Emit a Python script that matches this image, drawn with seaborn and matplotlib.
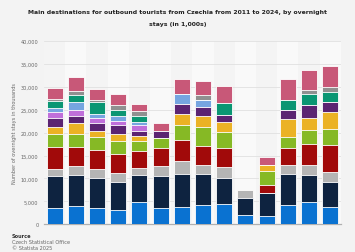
import numpy as np
import pandas as pd
import matplotlib
matplotlib.use('Agg')
import matplotlib.pyplot as plt
import seaborn as sns

# Years shown (no tick labels are visible in the reference)
years = [str(y) for y in range(2011, 2025)]

# Overnight stays in 1,000s, one list per destination (bottom to top of stack)
slovakia = [3640, 4080, 3500, 3130, 4950, 3570, 3710, 4300, 4370, 2110, 1820, 4220, 4880, 3710]
croatia = [6920, 6770, 6550, 6190, 5830, 6920, 7360, 6770, 5680, 3570, 5030, 6700, 5970, 5610]
austria = [1600, 1900, 2110, 1970, 1460, 2260, 2700, 1970, 2400, 1750, 0, 2120, 2190, 2190]
italy = [4660, 4220, 4080, 4080, 3860, 4000, 4730, 4150, 4150, 0, 1820, 3560, 4590, 5900]
greece = [2780, 2830, 2910, 2910, 2040, 2190, 3130, 4150, 3570, 0, 2910, 2550, 3050, 3490]
spain = [1700, 2270, 1240, 1530, 1090, 0, 2400, 2260, 2120, 0, 1460, 3720, 2550, 3570]
germany = [1900, 1670, 1750, 1820, 1090, 1450, 2260, 2040, 1530, 0, 0, 2180, 2700, 2190]
france = [1300, 1310, 1020, 870, 1240, 0, 0, 0, 0, 0, 0, 0, 0, 0]
hungary = [800, 1610, 940, 1100, 730, 0, 2040, 1530, 0, 0, 0, 0, 0, 0]
bulgaria = [1500, 1530, 2480, 1300, 1310, 0, 0, 0, 2690, 0, 0, 1970, 2400, 2110]
poland = [600, 870, 510, 1170, 1090, 0, 0, 1020, 0, 0, 0, 0, 870, 1090]
other = [2300, 2990, 2410, 2260, 1600, 1610, 3270, 3130, 3570, 0, 1600, 4740, 4520, 4590]

series_names = ['Slovakia', 'Croatia', 'Austria', 'Italy', 'Greece', 'Spain',
                'Germany', 'France', 'Hungary', 'Bulgaria', 'Poland', 'Other']
series_values = [slovakia, croatia, austria, italy, greece, spain,
                 germany, france, hungary, bulgaria, poland, other]
colors = ['#0a72d1', '#0e2340', '#b5b5b5', '#a10a0a', '#86b925', '#ebb225',
          '#5b2472', '#c06fda', '#76a5e0', '#0a9673', '#909090', '#c85878']

df = pd.DataFrame(dict(zip(series_names, series_values)), index=years)
cum = df.cumsum(axis=1)

fig = plt.figure(figsize=(3.55, 2.53), dpi=100, facecolor='#f3f3f3')
ax = fig.add_axes([0.124, 0.1095, 0.836, 0.7245])
ax.set_facecolor('#f4f4f4')

# alternating column shading
for i in range(len(years)):
    if i % 2 == 1:
        ax.axvspan(i - 0.5, i + 0.5, color='#f9f9f9', zorder=0, lw=0)

# draw cumulative totals from the top series down so they stack
for name, col in reversed(list(zip(series_names, colors))):
    sns.barplot(x=years, y=cum[name].values, color=col, width=0.76,
                edgecolor='white', linewidth=0.6, ax=ax, zorder=3,
                saturation=1)

ax.set_ylim(0, 40000)
ax.set_xlim(-0.5, len(years) - 0.5)
ticks = np.arange(0, 40001, 5000)
ax.set_yticks(ticks)
ax.set_yticklabels([f'{t:,}' for t in ticks], fontsize=3.6, color='#666666')
ax.set_xticks([])
ax.tick_params(axis='y', length=0, pad=4)
ax.grid(axis='y', color='#dcdcdc', lw=0.5, zorder=1)
ax.set_axisbelow(True)
for s in ['top', 'right', 'left']:
    ax.spines[s].set_visible(False)
ax.spines['bottom'].set_color('#b0b0b0')
ax.spines['bottom'].set_linewidth(0.9)
ax.set_xlabel('')
ax.set_ylabel('Number of overnight stays in thousands', fontsize=3.6,
              color='#666666', labelpad=3)

fig.text(0.5, 0.950, 'Main destinations for outbound tourists from Czechia from 2011 to 2024, by overnight',
         ha='center', va='center', fontsize=4.4, fontweight='bold', color='#222222')
fig.text(0.5, 0.902, 'stays (in 1,000s)', ha='center', va='center',
         fontsize=4.4, fontweight='bold', color='#222222')

fig.text(0.033, 0.067, 'Source', fontsize=3.6, fontweight='bold', color='#333333', va='center')
fig.text(0.033, 0.043, 'Czech Statistical Office', fontsize=3.6, color='#666666', va='center')
fig.text(0.033, 0.019, '© Statista 2025', fontsize=3.6, color='#666666', va='center')

fig.savefig('out.png', dpi=100, facecolor=fig.get_facecolor())
